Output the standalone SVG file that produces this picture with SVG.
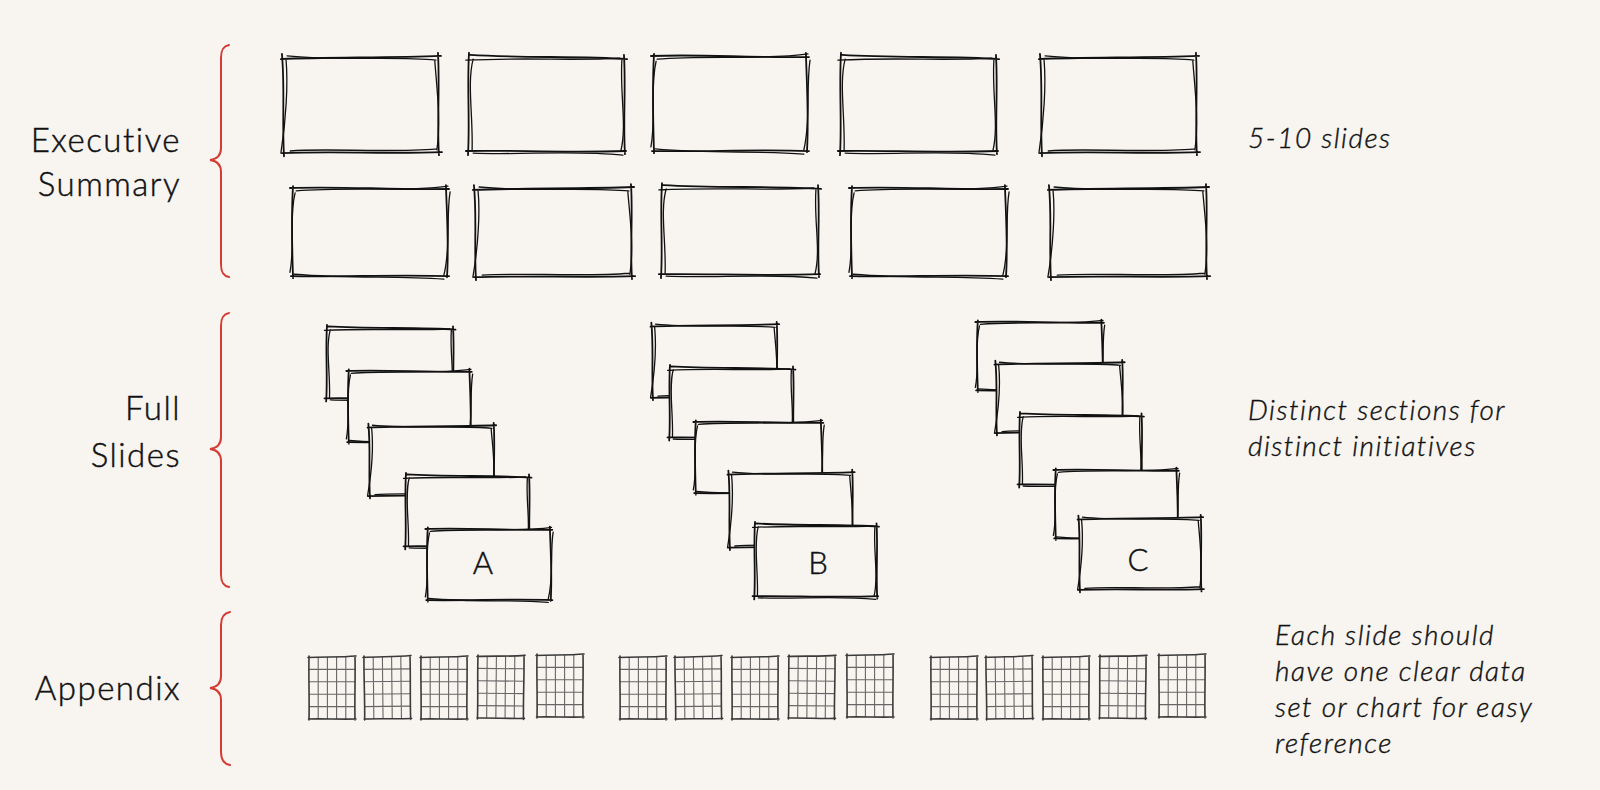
<svg xmlns="http://www.w3.org/2000/svg" xmlns:xlink="http://www.w3.org/1999/xlink" width="1600" height="790" viewBox="0 0 1600 790">
<style>
.lbl{font-family:Lato,"Noto Sans","Liberation Sans",sans-serif;font-weight:300;font-size:33px;letter-spacing:1.5px;fill:#111;stroke:#111;stroke-width:0.45;text-anchor:end}
.note{font-family:Lato,"Noto Sans","Liberation Sans",sans-serif;font-weight:300;font-style:italic;font-size:28px;letter-spacing:1.5px;fill:#111;stroke:#111;stroke-width:0.4}
.letter{font-family:Lato,"Noto Sans","Liberation Sans",sans-serif;font-weight:300;font-size:31px;fill:#111;stroke:#111;stroke-width:0.45;text-anchor:middle}
.sk{fill:none;stroke:#111;stroke-width:1.8;stroke-linecap:round;vector-effect:non-scaling-stroke}
.sk2{fill:none;stroke:#111;stroke-width:1.3;stroke-linecap:round;vector-effect:non-scaling-stroke}
.bg{fill:#f8f5f1;stroke:none}
.brace{fill:none;stroke:#d63b33;stroke-width:2;stroke-linecap:round}
.gb{fill:none;stroke:#3a3a3a;stroke-width:1.6;stroke-linecap:round}
.gl{fill:none;stroke:#666;stroke-width:1.1}
</style>
<defs>
<g id="vA">
<rect class="bg" x="0" y="0" width="150" height="90"/>
<path class="sk" d="M-3,2 C40,0 100,1 152,-1 M149,-4 C151,25 148,65 150,93 M153,90 C100,92 50,89 -2,91 M0,94 C-2,60 1,30 -2,-3"/>
<path class="sk2" d="M3,-1 C50,4 110,-1 147,3 M146,4 C148,30 152,60 148,88 M148,87 C100,91 40,86 6,89 M-3,91 C2,60 4,25 2,3"/>
</g>
<g id="vB">
<rect class="bg" x="0" y="0" width="150" height="90"/>
<path class="sk" d="M1,-2 C50,1 110,-1 153,2 M150,-2 C152,30 149,60 151,92 M152,89 C90,91 40,88 -3,89 M-1,93 C1,60 -2,30 0,-4"/>
<path class="sk2" d="M-3,3 C60,0 100,4 146,1 M148,3 C146,35 153,65 147,89 M149,93 C100,88 50,93 4,91 M3,88 C4,55 -2,25 4,2"/>
</g>
<g id="vC">
<rect class="bg" x="0" y="0" width="150" height="90"/>
<path class="sk" d="M-2,0 C50,-2 90,2 151,1 M148,-3 C149,30 151,60 149,91 M151,90 C100,88 50,91 -1,90 M1,92 C0,60 -1,30 1,-2"/>
<path class="sk2" d="M4,3 C50,-1 110,4 150,-2 M152,4 C148,30 153,60 146,89 M146,93 C100,89 60,93 2,88 M-2,86 C3,60 -3,30 3,5"/>
</g>
<g id="grid">
<path class="gl" d="M9.2,0V62 M18.4,0V62 M27.6,0V62 M36.8,0V62 M0,12.4H46 M0,24.8H46 M0,37.2H46 M0,49.6H46"/>
<path class="gb" d="M-1,0.5 C15,-0.5 30,0.5 47,-1 M46,-1 C46.5,20 45.5,40 46,63 M47,62 C30,62.5 15,61.5 -0.5,62 M0,63 C0.5,40 -0.5,20 0,-1"/>
</g>
</defs>
<rect x="0" y="0" width="1600" height="790" fill="#f8f5f1"/>

<g id="braces">
<path class="brace" d="M229,45 C223,46 221,50 221,58 L221,148 C221,155 218,159 210,160 C218,161 221,165 221,172 L221,264 C221,272 223,276 229,277"/>
<path class="brace" d="M229,313 C223,314 221,318 221,326 L221,437 C221,444 218,448 210,449 C218,450 221,454 221,461 L221,574 C221,582 223,586 229,587"/>
<path class="brace" d="M230,612 C224,613 221,617 221,625 L221,676 C221,683 218,687 210,688 C218,689 221,693 221,700 L221,752 C221,760 224,764 230,765"/>
</g>

<g id="labels">
<text class="lbl" x="181" y="152">Executive</text>
<text class="lbl" x="181" y="196">Summary</text>
<text class="lbl" x="181" y="420">Full</text>
<text class="lbl" x="181" y="467">Slides</text>
<text class="lbl" x="181" y="700">Appendix</text>
</g>

<g id="exec-summary">
<g id="es1"><use href="#vA" transform="translate(284,57) scale(1.033,1.056)"/></g>
<g id="es2"><use href="#vB" transform="translate(469,57) scale(1.033,1.056)"/></g>
<g id="es3"><use href="#vC" transform="translate(653,56) scale(1.033,1.056)"/></g>
<g id="es4"><use href="#vB" transform="translate(841,57) scale(1.033,1.056)"/></g>
<g id="es5"><use href="#vA" transform="translate(1042,57) scale(1.033,1.056)"/></g>
<g id="es6"><use href="#vC" transform="translate(292,188) scale(1.04,0.98)"/></g>
<g id="es7"><use href="#vA" transform="translate(476,188) scale(1.04,0.98)"/></g>
<g id="es8"><use href="#vB" transform="translate(662,187) scale(1.04,0.98)"/></g>
<g id="es9"><use href="#vC" transform="translate(851,188) scale(1.04,0.98)"/></g>
<g id="es10"><use href="#vA" transform="translate(1051,188) scale(1.04,0.98)"/></g>
</g>

<g id="stack-a">
<g id="a1"><use href="#vB" transform="translate(327,328) scale(0.84,0.79)"/></g>
<g id="a2"><use href="#vC" transform="translate(348,371) scale(0.82,0.79)"/></g>
<g id="a3"><use href="#vA" transform="translate(370,426) scale(0.83,0.77)"/></g>
<g id="a4"><use href="#vB" transform="translate(406,476) scale(0.82,0.79)"/></g>
<g id="a5"><use href="#vC" transform="translate(427,529) scale(0.83,0.79)"/><text class="letter" x="483" y="574">A</text></g>
</g>

<g id="stack-b">
<g id="b1"><use href="#vA" transform="translate(653,325) scale(0.83,0.8)"/></g>
<g id="b2"><use href="#vB" transform="translate(670,368) scale(0.82,0.78)"/></g>
<g id="b3"><use href="#vC" transform="translate(695,422) scale(0.85,0.79)"/></g>
<g id="b4"><use href="#vA" transform="translate(730,473) scale(0.82,0.82)"/></g>
<g id="b5"><use href="#vB" transform="translate(755,525) scale(0.81,0.8)"/><text class="letter" x="818" y="574">B</text></g>
</g>

<g id="stack-c">
<g id="c1"><use href="#vC" transform="translate(977,322) scale(0.84,0.76)"/></g>
<g id="c2"><use href="#vA" transform="translate(997,363) scale(0.84,0.77)"/></g>
<g id="c3"><use href="#vB" transform="translate(1020,415) scale(0.81,0.78)"/></g>
<g id="c4"><use href="#vC" transform="translate(1055,470) scale(0.82,0.76)"/></g>
<g id="c5"><use href="#vA" transform="translate(1080,518) scale(0.81,0.79)"/><text class="letter" x="1138" y="571">C</text></g>
</g>

<g id="appendix">
<g id="g1-1"><use href="#grid" transform="translate(309,657)"/></g>
<g id="g1-2"><use href="#grid" transform="translate(364,657) rotate(-0.6)"/></g>
<g id="g1-3"><use href="#grid" transform="translate(421,657)"/></g>
<g id="g1-4"><use href="#grid" transform="translate(478,656) rotate(0.5)"/></g>
<g id="g1-5"><use href="#grid" transform="translate(537,655)"/></g>
<g id="g2-1"><use href="#grid" transform="translate(620,657)"/></g>
<g id="g2-2"><use href="#grid" transform="translate(675,657) rotate(-0.6)"/></g>
<g id="g2-3"><use href="#grid" transform="translate(732,657)"/></g>
<g id="g2-4"><use href="#grid" transform="translate(789,656) rotate(0.5)"/></g>
<g id="g2-5"><use href="#grid" transform="translate(847,655)"/></g>
<g id="g3-1"><use href="#grid" transform="translate(931,657)"/></g>
<g id="g3-2"><use href="#grid" transform="translate(986,657) rotate(-0.6)"/></g>
<g id="g3-3"><use href="#grid" transform="translate(1043,657)"/></g>
<g id="g3-4"><use href="#grid" transform="translate(1100,656) rotate(0.5)"/></g>
<g id="g3-5"><use href="#grid" transform="translate(1159,655)"/></g>
</g>

<g id="notes">
<text class="note" x="1248" y="148">5-10 slides</text>
<text class="note" x="1248" y="420">Distinct sections for</text>
<text class="note" x="1248" y="456">distinct initiatives</text>
<text class="note" x="1275" y="645">Each slide should</text>
<text class="note" x="1275" y="681">have one clear data</text>
<text class="note" x="1275" y="717">set or chart for easy</text>
<text class="note" x="1275" y="753">reference</text>
</g>
</svg>
